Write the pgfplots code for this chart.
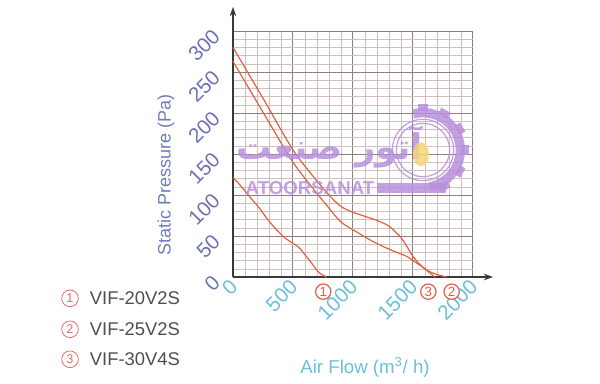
\documentclass[border=0pt]{standalone}
\usepackage{pgfplots}
\pgfplotsset{compat=1.18}
\usetikzlibrary{arrows.meta}
\usepackage{fontspec}
\setmainfont{Liberation Sans}
\newfontfamily\arabicfont[Script=Arabic]{DejaVu Sans}
\TeXXeTstate=1
\definecolor{curve}{HTML}{E0603F}
\definecolor{gridmaj}{HTML}{8E7F7D}
\definecolor{gridmin}{HTML}{D0C0C0}
\definecolor{axisc}{HTML}{3A3A3A}
\definecolor{xtc}{HTML}{6CBFDA}
\definecolor{ytc}{HTML}{6E72B2}
\definecolor{ylc}{HTML}{6F7DB8}
\definecolor{legc}{HTML}{E46A66}
\definecolor{legt}{HTML}{4E4E4E}
\definecolor{wm}{HTML}{B88FDC}
\definecolor{wmy}{HTML}{F5D77A}
\begin{document}
\begin{tikzpicture}
\useasboundingbox (-174.75pt,-79.5pt) rectangle (275.25pt,207.75pt);
\begin{axis}[
  scale only axis, width=180pt, height=184.5pt,
  xmin=0, xmax=2000, ymin=0, ymax=300,
  axis lines=left,
  xtick={0,500,...,2000}, ytick={0,50,...,300},
  minor x tick num=4, minor y tick num=4,
  grid=both,
  major grid style={color=gridmaj, line width=0.75pt},
  minor grid style={color=gridmin, line width=0.45pt},
  major tick length=0pt, minor tick length=0pt,
  x axis line style={line width=1pt, color=axisc, -{Stealth[length=7pt,width=5pt]}, shorten >=-15pt},
  y axis line style={line width=1pt, color=axisc, -{Stealth[length=7pt,width=5pt]}, shorten >=-18pt},
  /pgf/number format/assume math mode=true,
  /pgf/number format/set thousands separator={},
  xticklabel style={xshift=3pt, yshift=-2.5pt, rotate=45, anchor=east, font=\fontsize{15.5}{15.5}\selectfont, text=xtc},
  yticklabel style={xshift=-10pt, yshift=1pt, rotate=45, anchor=east, font=\fontsize{15.5}{15.5}\selectfont, text=ytc},
  clip=false,
]
\addplot[curve, line width=0.9pt, smooth, tension=0.5] coordinates {
 (0,121) (60,112) (150,96) (220,84) (290,70) (360,58) (430,48) (500,41) (550,36) (600,27) (650,18) (700,8) (740,3) (780,0)};
\addplot[curve, line width=0.9pt, smooth, tension=0.5] coordinates {
 (0,280) (250,218) (500,155) (700,117) (800,100) (900,86) (1000,79) (1100,74) (1200,69) (1300,62) (1400,48) (1450,37) (1500,25) (1560,15) (1620,8) (1700,3) (1780,0)};
\addplot[curve, line width=0.9pt, smooth, tension=0.5] coordinates {
 (0,263) (250,201) (500,140) (700,102) (800,84) (900,67) (1030,55) (1170,43) (1300,34) (1400,28) (1450,25) (1520,18) (1590,11) (1640,5) (1680,0)};
\node[circle, draw=curve, fill=white, line width=0.9pt, inner sep=0pt, minimum size=11.5pt, text=curve, font=\fontsize{10}{10}\selectfont] at (axis cs:752,0) [yshift=-11pt] {1};
\node[circle, draw=curve, fill=white, line width=0.9pt, inner sep=0pt, minimum size=11.5pt, text=curve, font=\fontsize{10}{10}\selectfont] at (axis cs:1628,0) [yshift=-11pt] {3};
\node[circle, draw=curve, fill=white, line width=0.9pt, inner sep=0pt, minimum size=11.5pt, text=curve, font=\fontsize{10}{10}\selectfont] at (axis cs:1822,0) [yshift=-11pt] {2};
\end{axis}
% watermark
\begin{scope}[opacity=0.85]
\node[text=wm, font=\arabicfont\bfseries\fontsize{26.5}{26.5}\selectfont] at (72.75pt,97.5pt) {\beginR آتور صنعت\endR};
\node[text=wm, font=\bfseries\fontsize{14}{14}\selectfont] at (57.75pt,66.75pt) {ATOORSANAT};
\fill[wm] (108pt,63pt) rectangle (160pt,70.5pt);
\draw[wm, line width=7pt] (142.5pt,95.25pt) ++(-80:28pt) arc[start angle=-80, end angle=105, radius=28pt];
\foreach \a in {-60,-30,0,30,60,90} {\fill[wm, rotate around={\a:(142.5pt,95.25pt)}] (172pt,91.25pt) rectangle (177pt,99.25pt);}
\draw[wm, line width=0.9pt] (142.5pt,95.25pt) circle (23pt);
\draw[wm, line width=0.9pt] (142.5pt,95.25pt) circle (20pt);
\fill[wmy] (141pt,92pt) ellipse (6pt and 9pt);
\end{scope}
% axis labels
\node[rotate=90, text=ylc, font=\fontsize{13.5}{13.5}\selectfont] at (-50.25pt,76.5pt) {Static Pressure (Pa)};
\node[text=xtc, font=\fontsize{14}{14}\selectfont] at (99pt,-67.5pt) {Air Flow (m\textsuperscript{3}/ h)};
% legend
\foreach \n/\y/\t in {1/-16/VIF-20V2S, 2/-39.2/VIF-25V2S, 3/-61.7/VIF-30V4S} {
  \node[circle, draw=legc, line width=0.6pt, inner sep=0pt, minimum size=12.5pt, text=legc, font=\fontsize{9.5}{9.5}\selectfont] at (-122.25pt,\y pt) {\n};
  \node[anchor=west, text=legt, font=\fontsize{13.8}{13.8}\selectfont, inner sep=0pt] at (-107.5pt,\y pt) {\t};
}
\end{tikzpicture}
\end{document}
